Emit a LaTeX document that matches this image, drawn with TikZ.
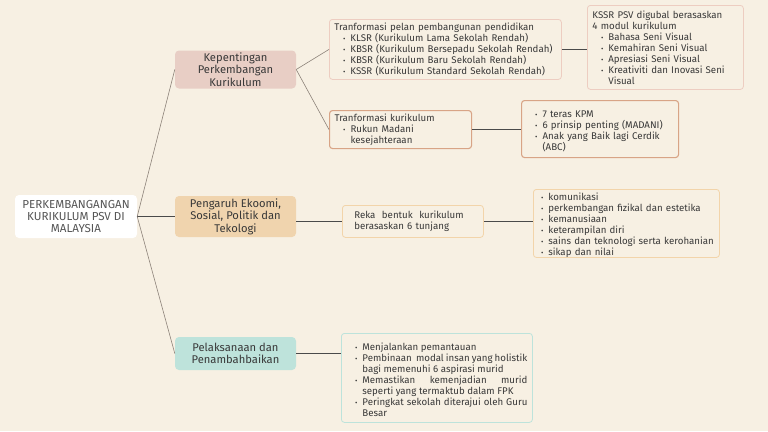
\documentclass[tikz,border=0pt]{standalone}
\usepackage{fontspec}
\setmainfont{Fira Sans}
\definecolor{bg}{HTML}{F7F0E3}
\definecolor{txt}{HTML}{383838}
\definecolor{kepfill}{HTML}{E8CEC5}
\definecolor{pinkline}{HTML}{EDCDC1}
\definecolor{brownline}{HTML}{D8A486}
\definecolor{pengfill}{HTML}{F0D4AE}
\definecolor{tanline}{HTML}{F2D4AA}
\definecolor{pelfill}{HTML}{BEE3DB}
\definecolor{tealline}{HTML}{BDE3DB}
\definecolor{diagline}{HTML}{8C8279}
\definecolor{hline}{HTML}{4A4A4A}
\newcommand\bpt[2][16pt]{\par\hangindent=#1\hangafter=0\noindent\llap{\scalebox{0.75}{\textbullet}\hspace{5pt}}#2\par}
\begin{document}
\begin{tikzpicture}[x=1pt,y=-1pt,
  box/.style={rounded corners=3pt, inner ysep=0pt, inner xsep=5pt, text=txt, anchor=north west,
    font=\fontsize{9.7}{11}\selectfont, align=left},
  topic/.style={rounded corners=4pt, inner sep=0pt, text=txt, align=center,
    font=\fontsize{11.2}{12.5}\selectfont},
  diag/.style={draw=diagline, line width=0.6pt},
  conn/.style={draw=hline, line width=0.9pt}]
\fill[bg] (0,0) rectangle (768,431);
\useasboundingbox (0,0) rectangle (768,431);

% root and topics
\node[topic, fill=white, minimum width=122pt, minimum height=43pt,
  font=\fontsize{11.6}{11.8}\selectfont, text=txt!85] (root) at (76,216.5)
  {PERKEMBANGANGAN\\KURIKULUM PSV DI\\MALAYSIA};
\node[topic, fill=kepfill, minimum width=121pt, minimum height=38pt] (kep) at (235.5,69.5)
  {Kepentingan\\Perkembangan\\Kurikulum};
\node[topic, fill=pengfill, minimum width=121pt, minimum height=41pt] (peng) at (235.5,216.5)
  {Pengaruh Ekoomi,\\Sosial, Politik dan\\Tekologi};
\node[topic, fill=pelfill, minimum width=121pt, minimum height=33pt] (pel) at (235.5,353.5)
  {Pelaksanaan dan\\Penambahbaikan};

% detail boxes
\node[box, draw=pinkline, line width=0.8pt, text width=222pt, minimum height=60pt] (t1) at (329,19)
  {Tranformasi pelan pembangunan pendidikan
   \bpt{KLSR (Kurikulum Lama Sekolah Rendah)}
   \bpt{KBSR (Kurikulum Bersepadu Sekolah Rendah)}
   \bpt{KBSR (Kurikulum Baru Sekolah Rendah)}
   \bpt{KSSR (Kurikulum Standard Sekolah Rendah)}};
\node[box, draw=pinkline, line width=0.8pt, text width=146pt, minimum height=84pt] (psv) at (587,5)
  {KSSR PSV digubal berasaskan\newline 4 modul kurikulum
   \bpt{Bahasa Seni Visual}
   \bpt{Kemahiran Seni Visual}
   \bpt{Apresiasi Seni Visual}
   \bpt{Kreativiti dan Inovasi Seni\newline Visual}};
\node[box, draw=brownline, line width=1.1pt, text width=132pt, minimum height=38pt] (t2) at (329,110)
  {Tranformasi kurikulum
   \bpt{Rukun Madani\newline kesejahteraan}};
\node[box, draw=brownline, line width=1.1pt, text width=147pt, minimum height=57pt] (kpm) at (521,100)
  {\bpt{7 teras KPM}
   \bpt{6 prinsip penting (MADANI)}
   \bpt{Anak yang Baik lagi Cerdik\newline (ABC)}};
\node[box, draw=tanline, line width=0.8pt, text width=117pt, inner xsep=12pt, minimum height=32pt] (reka) at (342,205)
  {Reka\ \ bentuk\ \ kurikulum\newline berasaskan 6 tunjang};
\node[box, draw=tanline, line width=0.8pt, text width=176pt, minimum height=67pt] (six) at (533,189)
  {\bpt[10pt]{komunikasi}
   \bpt[10pt]{perkembangan fizikal dan estetika}
   \bpt[10pt]{kemanusiaan}
   \bpt[10pt]{keterampilan diri}
   \bpt[10pt]{sains dan teknologi serta kerohanian}
   \bpt[10pt]{sikap dan nilai}};
\node[box, draw=tealline, line width=0.8pt, text width=181pt, minimum height=89pt, align=justify] (pl) at (341,333)
  {\bpt{Menjalankan pemantauan}
   \bpt{Pembinaan\ \ modal insan yang holistik\linebreak bagi memenuhi 6 aspirasi murid}
   \bpt{Memastikan kemenjadian murid\linebreak seperti yang termaktub dalam FPK}
   \bpt{Peringkat sekolah diterajui oleh Guru\linebreak Besar}};

% connectors
\draw[diag] (root.east) -- (kep.west);
\draw[conn, line width=0.7pt] (root.east) -- (peng.west);
\draw[diag] (root.east) -- (pel.west);
\draw[diag] (kep.east) -- (t1.west);
\draw[diag] (kep.east) -- (t2.west);
\draw[conn] (t1.east) -- (t1.east -| psv.west);
\draw[conn] (t2.east) -- (t2.east -| kpm.west);
\draw[conn] (peng.east |- reka.west) -- (reka.west);
\draw[conn] (reka.east) -- (reka.east -| six.west);
\draw[conn] (pel.east) -- (pel.east -| pl.west);
\end{tikzpicture}
\end{document}
